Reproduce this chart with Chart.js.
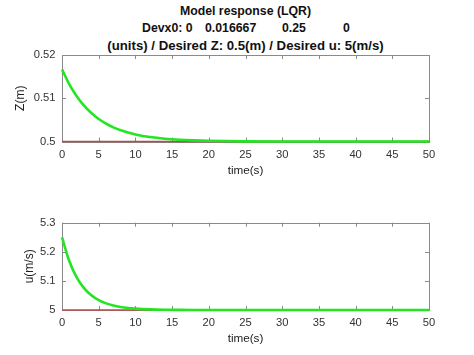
<!DOCTYPE html>
<html><head><meta charset="utf-8">
<script src="https://cdn.jsdelivr.net/npm/chart.js@4/dist/chart.umd.min.js"></script>
<style>
html,body{margin:0;padding:0;background:#fff;}
#wrap{position:relative;width:474px;height:355px;overflow:hidden;font-family:"Liberation Sans",Arial,sans-serif;}
.t{position:absolute;left:0;width:491px;text-align:center;font-weight:bold;font-size:12.3px;color:#111;white-space:pre;line-height:14px;}
.s{position:absolute;top:21px;font-weight:bold;font-size:12.3px;color:#111;white-space:pre;line-height:14px;}
canvas{position:absolute;left:0;}
</style></head><body>
<div id="wrap">
<div class="t" style="top:4px">Model response (LQR)</div>
<span class="s" style="left:142px">Devx0: 0</span>
<span class="s" style="left:205px">0.016667</span>
<span class="s" style="left:282px">0.25</span>
<span class="s" style="left:343px">0</span>
<div class="t" style="top:39px;font-size:13.2px">(units) / Desired Z: 0.5(m) / Desired u: 5(m/s)</div>
<canvas id="c1" width="474" height="185" style="top:0"></canvas>
<canvas id="c2" width="474" height="170" style="top:185px"></canvas>
</div>
<script>
const time = [0,1,2,3,4,5,6,7,8,9,10,12,14,16,18,20,25,30,35,40,45,50];
const zResponse = [0.51667,0.51321,0.51047,0.5083,0.50657,0.50521,0.50413,0.50327,0.50259,0.50206,0.50163,0.50102,0.50064,0.5004,0.50025,0.50016,0.50003,0.5,0.5,0.5,0.5,0.5];
const uResponse = [5.25,5.1676,5.1123,5.0753,5.0505,5.0338,5.0227,5.0152,5.0102,5.0068,5.0046,5.0021,5.0009,5.0004,5.0002,5.0001,5.0,5.0,5.0,5.0,5.0,5.0];
const desiredTime = [0,50];
const zDesired = [0.5,0.5];
const uDesired = [5,5];
const xTicks = [0,5,10,15,20,25,30,35,40,45,50];
const zTicks = [0.5,0.51,0.52];
const uTicks = [5,5.1,5.2,5.3];

const FRAME = '#8a8a8a';
const boxPlugin = {
  id:'box',
  beforeDatasetsDraw(chart){
    const {ctx, chartArea:a, scales:{x,y}} = chart;
    ctx.save();
    ctx.strokeStyle = FRAME; ctx.lineWidth = 1;
    ctx.strokeRect(Math.round(a.left)+0.5, Math.round(a.top)+0.5, Math.round(a.right-a.left), Math.round(a.bottom-a.top));
    ctx.beginPath();
    const L = 4;
    x.ticks.forEach(t=>{const px=Math.round(x.getPixelForValue(t.value))+0.5;
      ctx.moveTo(px,a.bottom); ctx.lineTo(px,a.bottom-L);
      ctx.moveTo(px,a.top); ctx.lineTo(px,a.top+L);});
    y.ticks.forEach(t=>{const py=Math.round(y.getPixelForValue(t.value))+0.5;
      ctx.moveTo(a.left,py); ctx.lineTo(a.left+L,py);
      ctx.moveTo(a.right,py); ctx.lineTo(a.right-L,py);});
    ctx.stroke();
    ctx.restore();
  }
};

function makeChart(id, resp, desired, yTicks, yLabel, pad, xAxisH, yTitlePad, xTickPad, xTitlePad){
  const fam = '"Liberation Sans", Arial, sans-serif';
  const tickFont = {family:fam, size:11.2};
  return new Chart(document.getElementById(id), {
    type:'line',
    data:{datasets:[
      {data:resp.map((v,i)=>({x:time[i],y:v})), borderColor:'#22e622', borderWidth:2.6, pointRadius:0, cubicInterpolationMode:'monotone', fill:false, order:0, clip:false},
      {data:desired.map((v,i)=>({x:desiredTime[i],y:v})), borderColor:'#b84a4a', borderWidth:1.6, pointRadius:0, fill:false, order:1, clip:false}
    ]},
    options:{
      responsive:false, animation:false,
      layout:{padding:pad},
      plugins:{legend:{display:false}, tooltip:{enabled:false}},
      scales:{
        x:{type:'linear', min:0, max:50,
          afterBuildTicks(s){s.ticks = xTicks.map(v=>({value:v}));},
          afterFit(s){s.height = xAxisH;},
          grid:{display:true, drawOnChartArea:false, drawTicks:false},
          border:{display:false},
          ticks:{font:tickFont, color:'#333', padding:xTickPad, maxRotation:0, autoSkip:false, callback:v=>String(v)},
          title:{display:true, text:'time(s)', font:{family:fam, size:11.7}, color:'#222', padding:{top:0,bottom:xTitlePad}}
        },
        y:{type:'linear', min:yTicks[0], max:yTicks[yTicks.length-1],
          afterBuildTicks(s){s.ticks = yTicks.map(v=>({value:v}));},
          afterFit(s){s.width = 62;},
          grid:{display:true, drawOnChartArea:false, drawTicks:false},
          border:{display:false},
          ticks:{font:tickFont, color:'#333', padding:6.5, autoSkip:false, callback:v=>String(v)},
          title:{display:true, text:yLabel, font:{family:fam, size:12}, color:'#222', padding:{top:yTitlePad,bottom:0}}
        }
      }
    },
    plugins:[boxPlugin]
  });
}
makeChart('c1', zResponse, zDesired, zTicks, 'Z(m)', {top:55,right:45,left:0,bottom:0}, 43.5, 13.5, 7, 7);
makeChart('c2', uResponse, uDesired, uTicks, 'u(m/s)', {top:37.7,right:45,left:0,bottom:0}, 45, 22, 6.5, 9);
</script>
</body></html>
